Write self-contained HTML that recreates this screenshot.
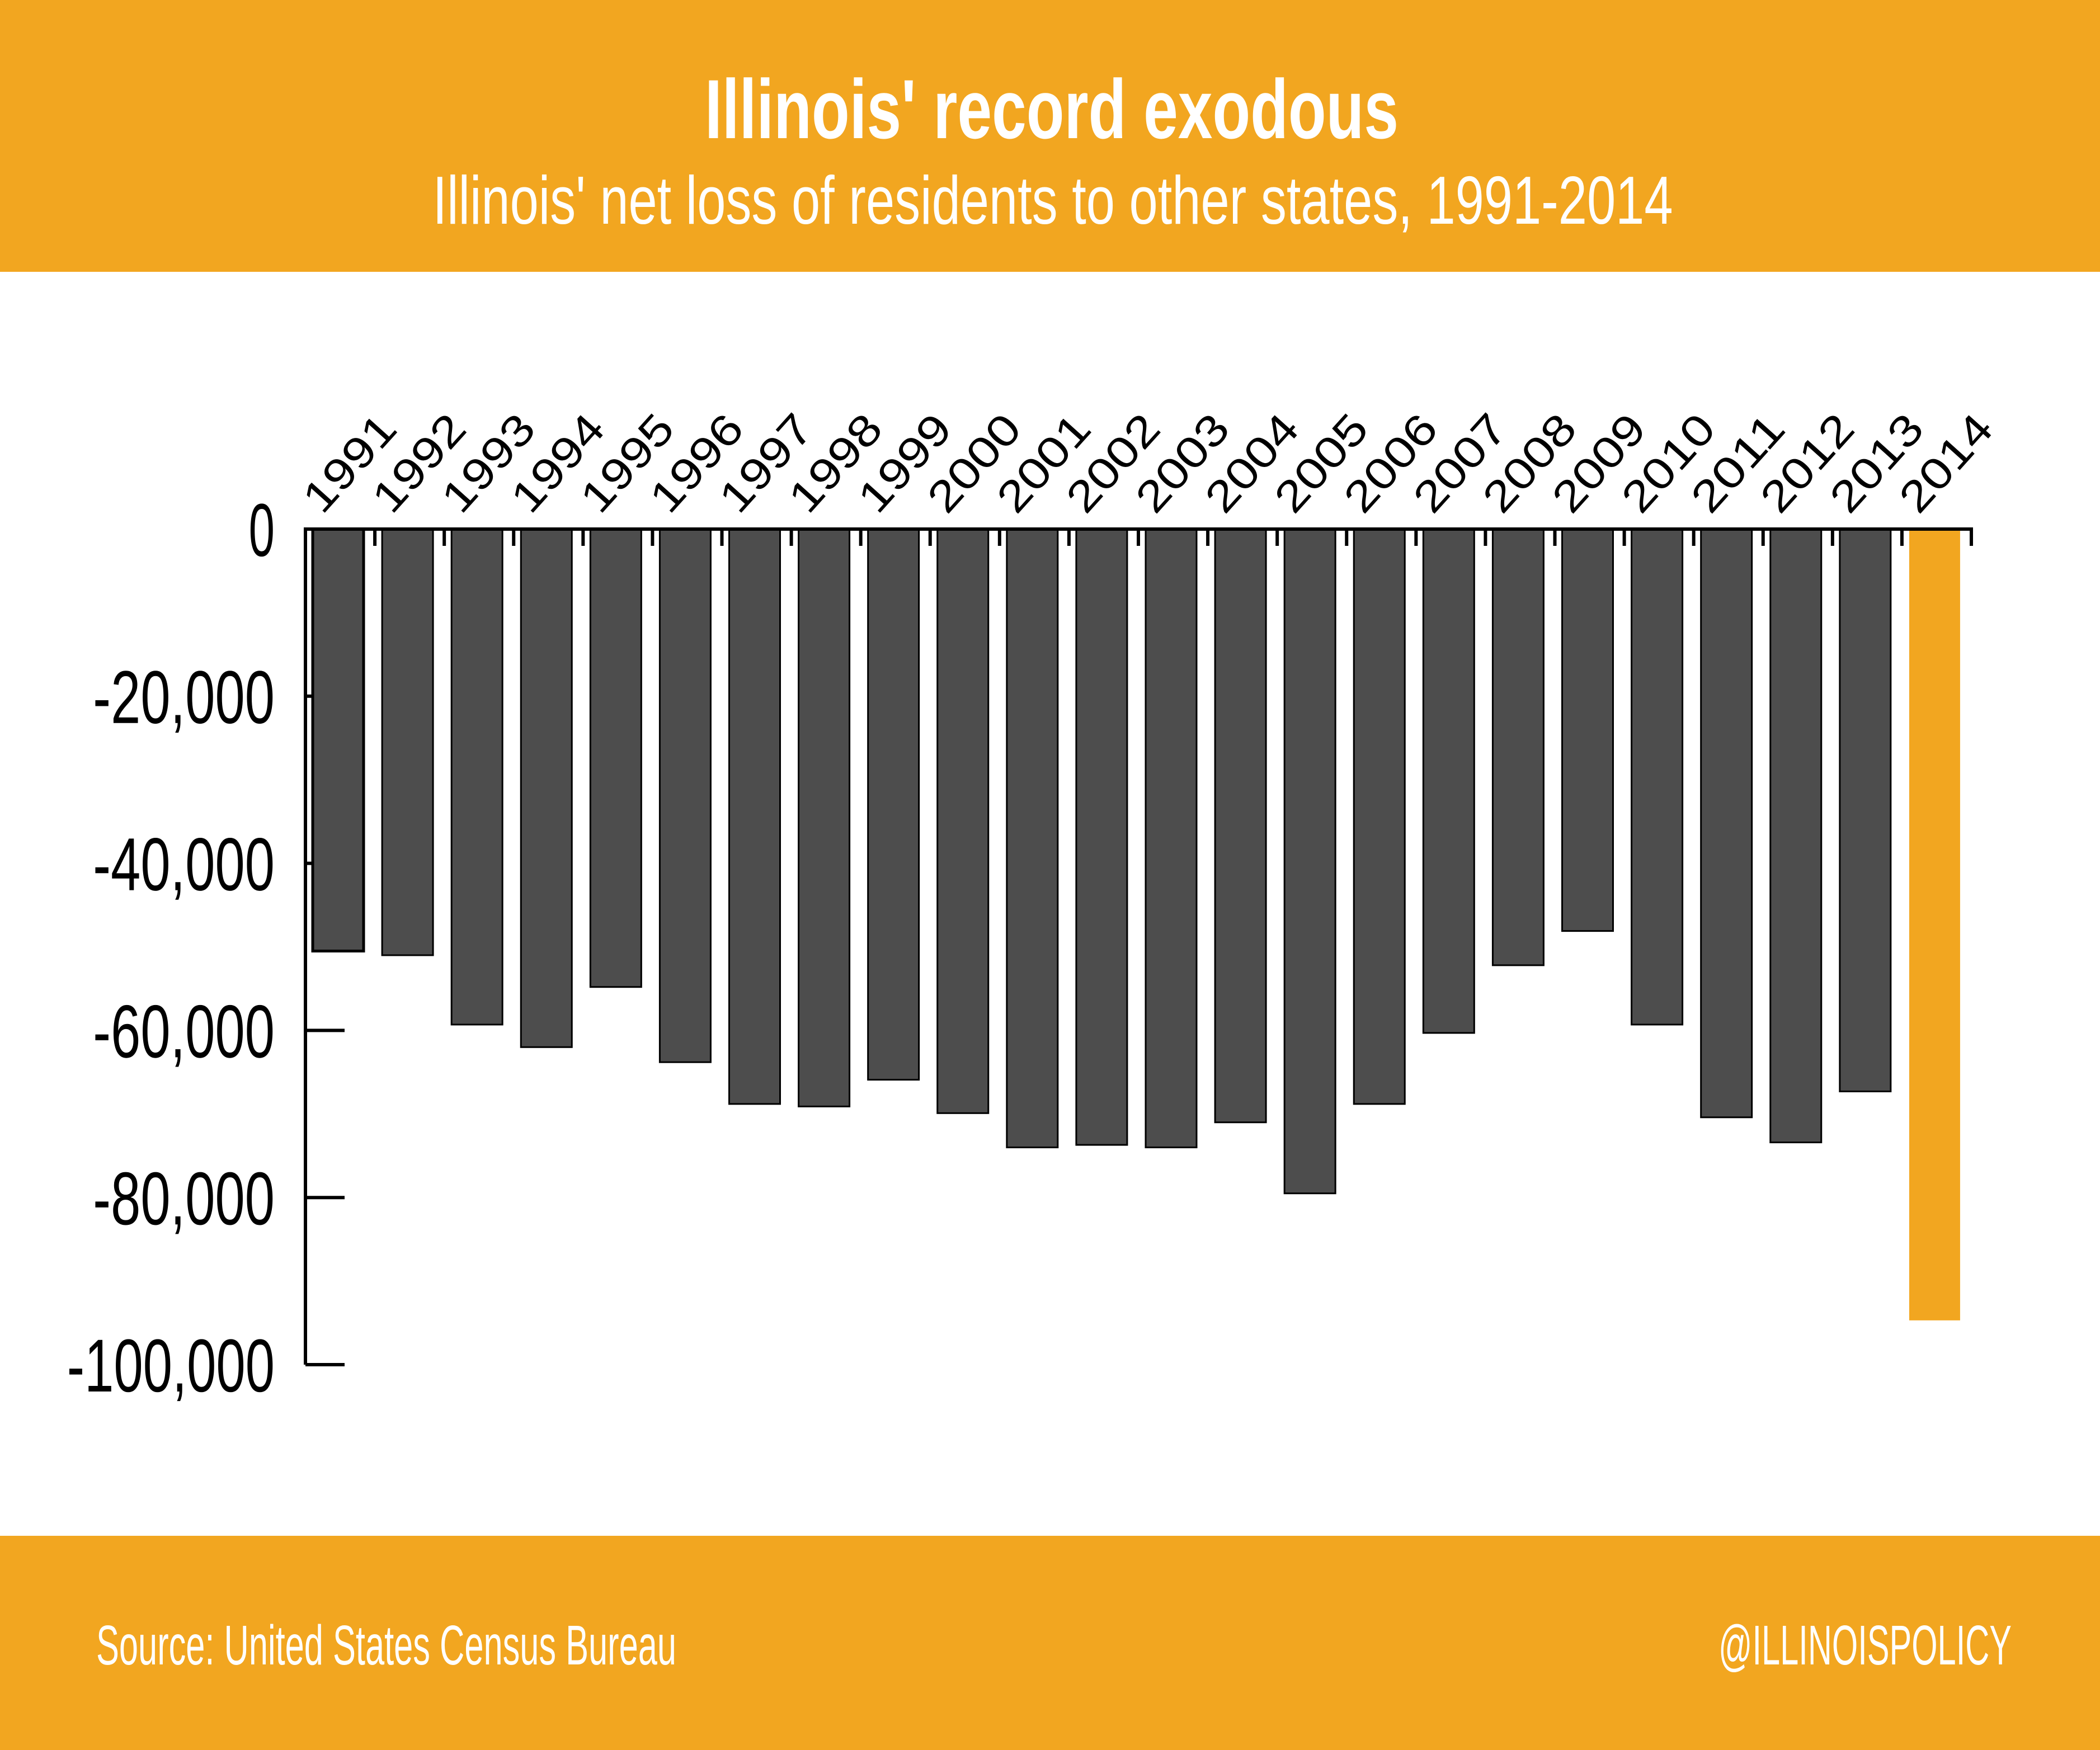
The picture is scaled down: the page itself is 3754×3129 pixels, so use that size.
<!DOCTYPE html>
<html><head><meta charset="utf-8"><style>
html,body{margin:0;padding:0;background:#fff;}
svg{display:block;}
text{font-family:"Liberation Sans Narrow","Liberation Sans",sans-serif;}
</style></head><body>
<svg id="chart" width="3754" height="3129" viewBox="0 0 3754 3129" xmlns="http://www.w3.org/2000/svg">
<rect x="0" y="0" width="3754" height="486" fill="#F2A620"/>
<text x="1880" y="247" text-anchor="middle" font-size="150" font-weight="bold" fill="#fff" textLength="1240" lengthAdjust="spacingAndGlyphs">Illinois' record exodous</text>
<text x="1882" y="400" text-anchor="middle" font-size="122" fill="#fff" textLength="2217" lengthAdjust="spacingAndGlyphs">Illinois' net loss of residents to other states, 1991-2014</text>
<rect x="0" y="2746" width="3754" height="383" fill="#F2A620"/>
<text x="172" y="2976" font-size="100" fill="#fff" textLength="1037" lengthAdjust="spacingAndGlyphs">Source: United States Census Bureau</text>
<text x="3596" y="2976" text-anchor="end" font-size="100" fill="#fff" textLength="524" lengthAdjust="spacingAndGlyphs">@ILLINOISPOLICY</text>
<g id="plot"></g>
</svg>
<script>
const years = ["1991","1992","1993","1994","1995","1996","1997","1998","1999","2000","2001","2002","2003","2004","2005","2006","2007","2008","2009","2010","2011","2012","2013","2014"];
const netLoss = [-50500,-51000,-59300,-62000,-54800,-63800,-68800,-69100,-65900,-69900,-74000,-73700,-74000,-71000,-79500,-68800,-60300,-52200,-48100,-59300,-70400,-73400,-67300,-94700];
const yTicks = [0,-20000,-40000,-60000,-80000,-100000];
const yTickLabels = ["0","-20,000","-40,000","-60,000","-80,000","-100,000"];

const NS = "http://www.w3.org/2000/svg";
const g = document.getElementById('plot');
const X0 = 546, X1 = 3524, Y0 = 946, Y100 = 2440;
const pitch = (X1 - X0) / years.length;
function yScale(v){ return Y0 + (-v) / 100000 * (Y100 - Y0); }
function xBand(i){ return X0 + pitch * i; }
function mk(tag, attrs){ const e = document.createElementNS(NS, tag); for (const k in attrs) e.setAttribute(k, attrs[k]); g.appendChild(e); return e; }

yTicks.forEach((t, i) => {
  const y = yScale(t);
  if (t !== 0) {
    const tk = mk('line', {x1: X0, x2: X0 + 70, y1: y, y2: y, stroke: '#000', 'stroke-width': 6});
    
    
  }
  const lbl = yTickLabels[i];
  const tx = mk('text', {x: 491, y: y + 48, 'text-anchor': 'end', 'font-size': 134, fill: '#000', textLength: lbl.length * 46.4, lengthAdjust: 'spacingAndGlyphs'});
  tx.textContent = lbl;
  
  
});

netLoss.forEach((v, i) => {
  const x = xBand(i) + 13, w = 91;
  const last = i === years.length - 1;
  const r = mk('rect', {x: x, y: Y0, width: w, height: yScale(v) - Y0, fill: last ? '#F2A620' : '#4D4D4D', stroke: last ? 'none' : '#000', 'stroke-width': i === 0 ? 5 : 3});
  
  
});

const ya = mk('line', {x1: X0, x2: X0, y1: Y0 - 3, y2: Y100, stroke: '#000', 'stroke-width': 6});


const xa = mk('line', {x1: X0 - 3, x2: X1 + 3, y1: Y0, y2: Y0, stroke: '#000', 'stroke-width': 6});


for (let i = 1; i <= years.length; i++) {
  const tk = mk('line', {x1: xBand(i), x2: xBand(i), y1: Y0, y2: Y0 + 30, stroke: '#000', 'stroke-width': 6});
  
  
}

years.forEach((yr, i) => {
  const x = xBand(i) + 30, y = Y0 - 24;
  const t = mk('text', {x: x, y: y, 'font-size': 78, fill: '#000', 'font-family': '"Liberation Sans", sans-serif', textLength: 205, lengthAdjust: 'spacingAndGlyphs', transform: 'rotate(-48 ' + x + ' ' + y + ')'});
  t.textContent = yr;
  
  
});
</script>
</body></html>
